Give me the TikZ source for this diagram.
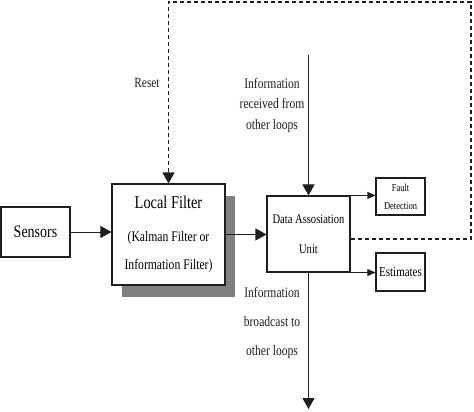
\documentclass[tikz,border=0pt]{standalone}
\usepackage{fontspec}
\setmainfont{Liberation Serif}[FakeStretch=0.8]
\usepackage{xcolor}
\usepackage{tikz}
\usetikzlibrary{arrows.meta, positioning, calc, shadows}
\definecolor{lineColor}{RGB}{30, 30, 30}
\definecolor{shadowColor}{RGB}{128, 128, 128}

\begin{document}
\begin{tikzpicture}[
    x=1pt, y=-1pt,
    box/.style={rectangle, draw=lineColor, fill=white, line width=1.1pt, align=center, inner sep=0pt},
    filterbox/.style={box, minimum width=113pt, minimum height=101pt, drop shadow={shadow xshift=10pt, shadow yshift=-12pt, fill=shadowColor, opacity=1}},
    label/.style={align=center, inner sep=0pt, text=lineColor},
    line/.style={draw=lineColor, line width=1pt, -{Triangle[length=11pt, width=12pt]}},
    small line/.style={draw=lineColor, line width=0.9pt, -{Triangle[length=8pt, width=7pt]}},
    feedback/.style={draw=lineColor, line width=1.5pt, dash pattern=on 4pt off 3pt, -{Triangle[length=11pt, width=12pt]}}
]
\useasboundingbox (0,0) rectangle (474,412);

% Nodes
\node (sensors) [box, minimum width=69pt, minimum height=50pt, font=\fontsize{17.5}{20}\selectfont] at (35.5,232) {Sensors};
\node (local) [filterbox, font=\fontsize{14.6}{28}\selectfont] at (168.5,234.5) {{\fontsize{18}{20}\selectfont Local Filter}\\[5pt]
    (Kalman Filter or\\Information Filter)};
\node (dau) [box, minimum width=83pt, minimum height=76pt, font=\fontsize{13.2}{30}\selectfont] at (308.5,234) {Data Assosiation\\Unit};
\node (fault) [box, minimum width=49pt, minimum height=37pt, font=\fontsize{10.6}{18}\selectfont] at (400.5,196.5) {Fault\\Detection};
\node (estimates) [box, minimum width=49pt, minimum height=38pt, font=\fontsize{13.7}{15}\selectfont] at (400.5,272) {Estimates};

\coordinate (inTop) at (308.5,55);
\coordinate (outBottom) at (308.5,409);
\coordinate (fbCorner) at (471,2);

% Labels
\node (reset) [label, font=\fontsize{14.1}{16}\selectfont] at (147,83) {Reset};
\node (received) [label, font=\fontsize{14.5}{20.5}\selectfont] at (272,105) {Information\\received from\\other loops};
\node (broadcast) [label, font=\fontsize{14.5}{29}\selectfont] at (272,323) {Information\\broadcast to\\other loops};

% Connectors
\path [line] (sensors.east) -- (sensors.east -| local.west);
\path [line] (local.east) -- (local.east -| dau.west);
\path [small line] (dau.north east) -- (dau.north east -| fault.west);
\path [small line] (dau.south east) -- (dau.south east -| estimates.west);
\path [line] (inTop) -- (dau.north);
\path [line] (dau.south) -- (outBottom);
\path [feedback] ([yshift=-5pt]dau.east) -| (fbCorner) -| (local.north);

\end{tikzpicture}
\end{document}
